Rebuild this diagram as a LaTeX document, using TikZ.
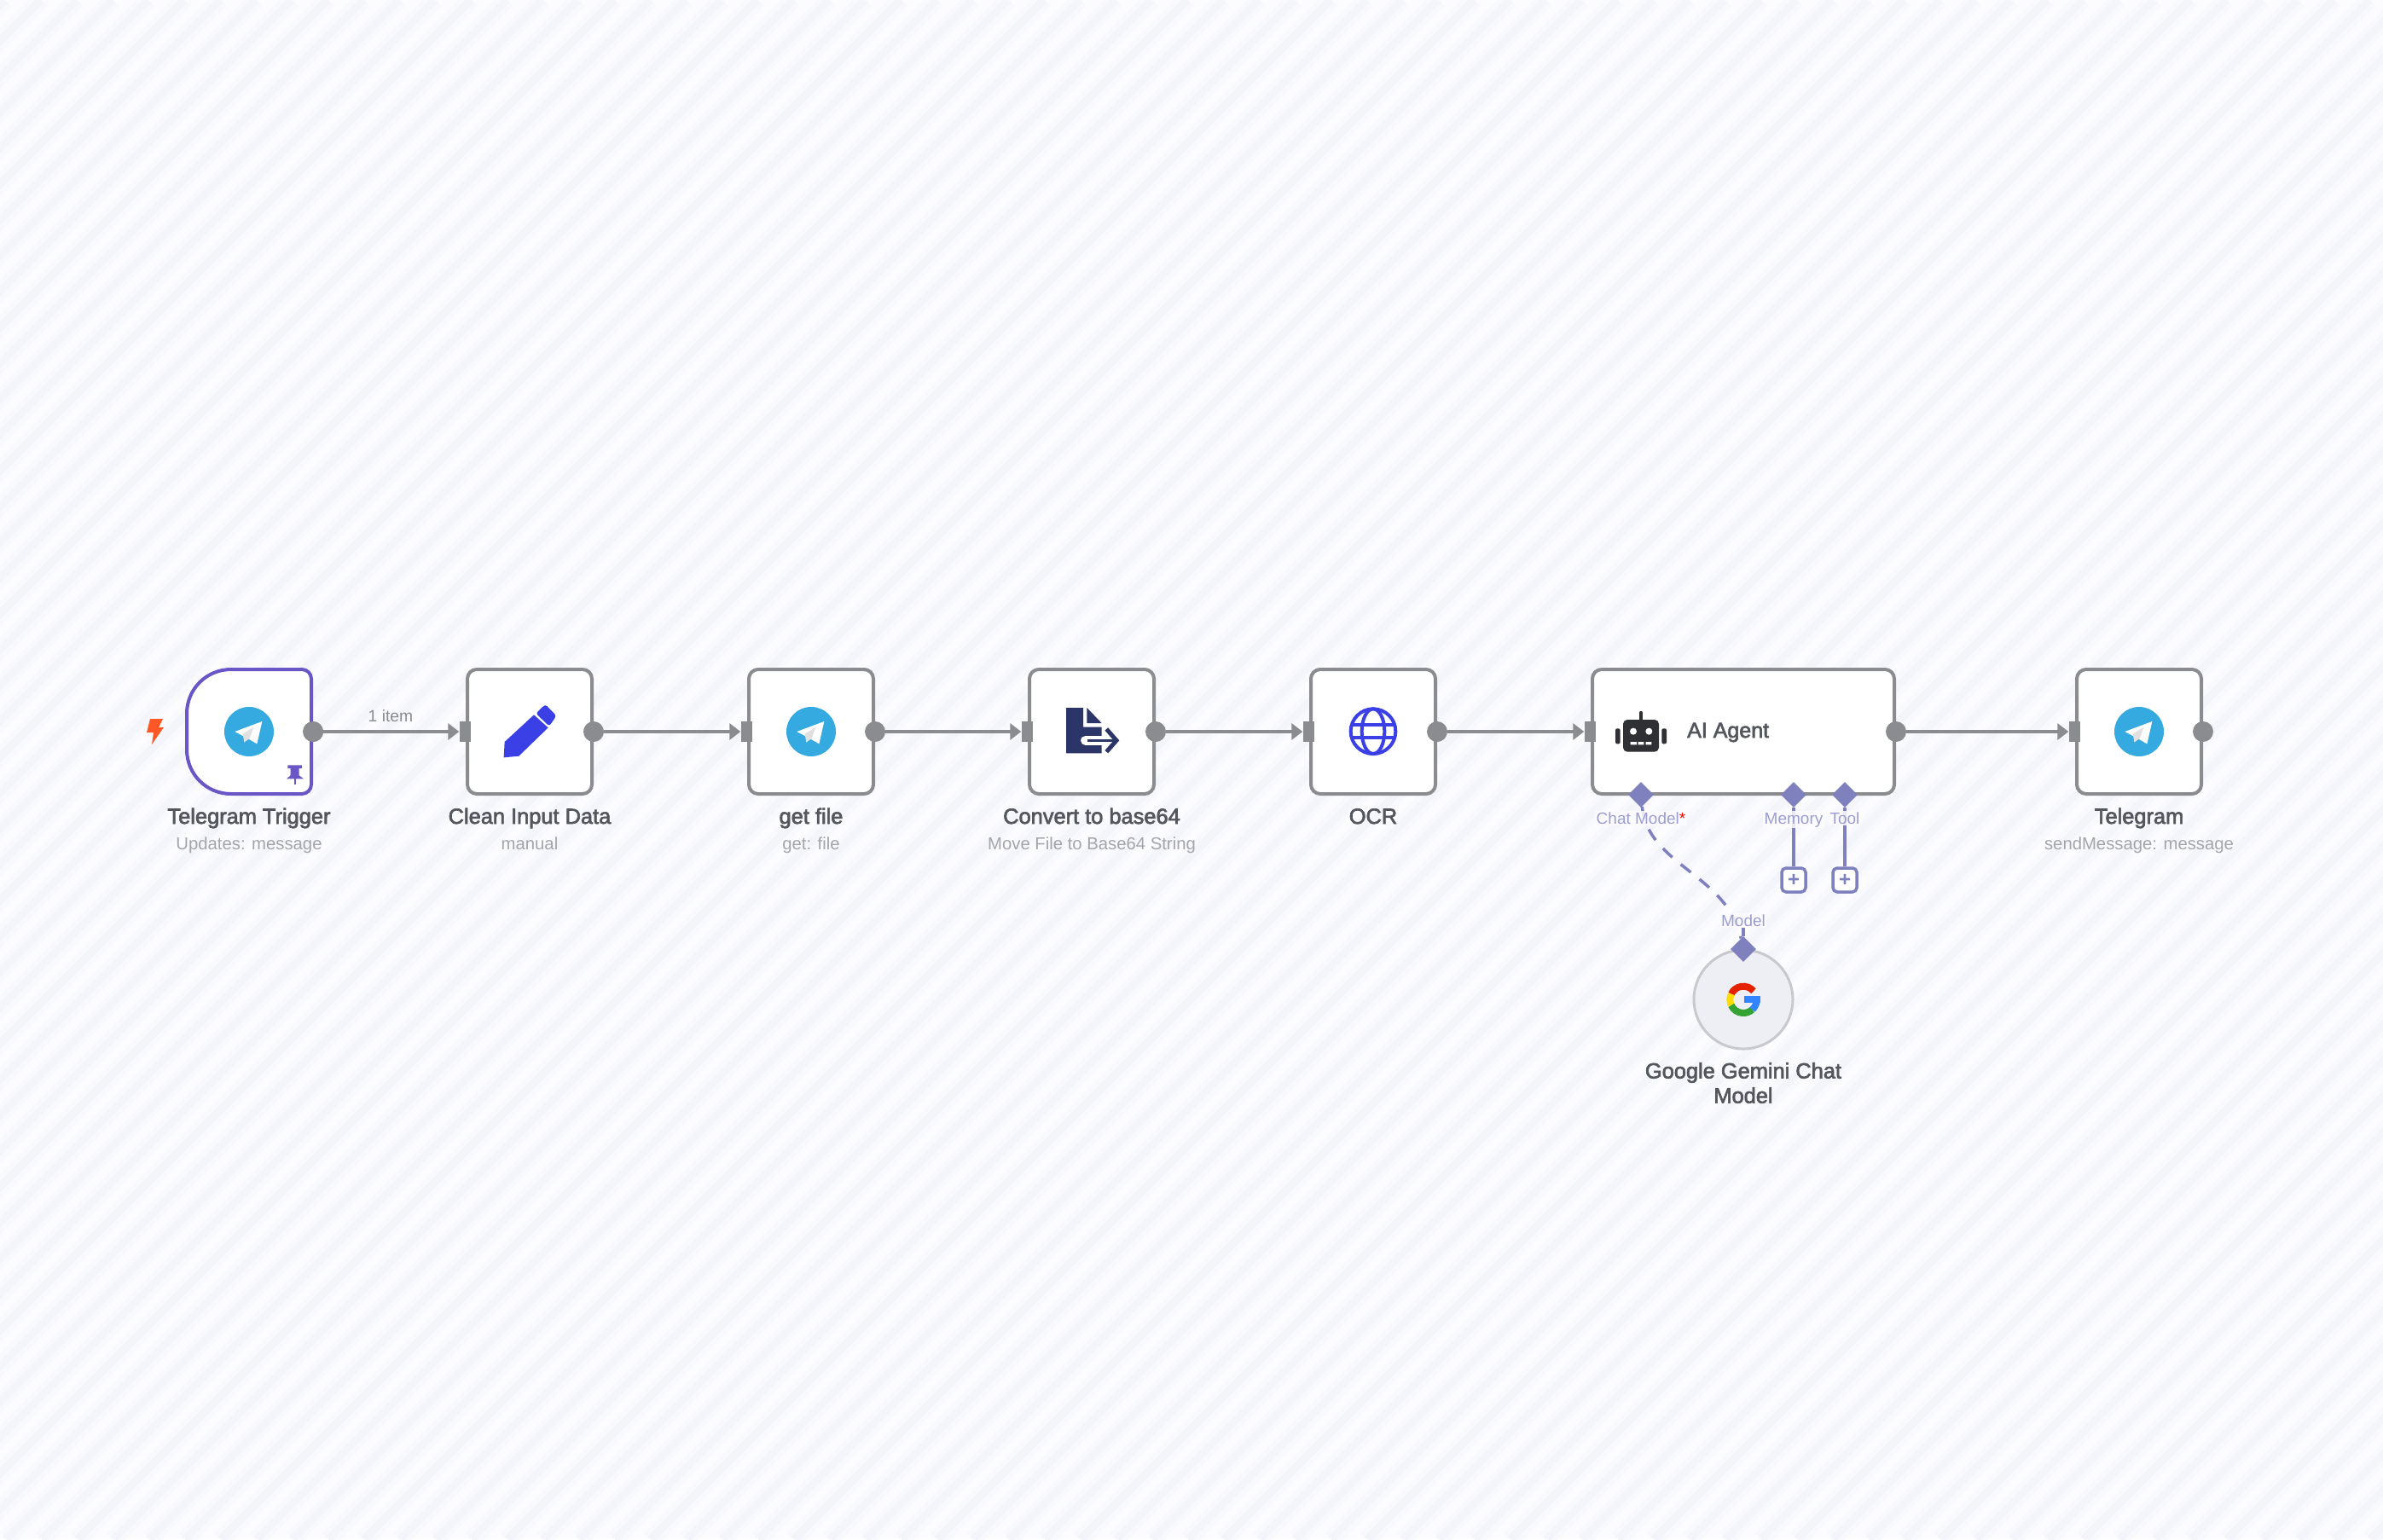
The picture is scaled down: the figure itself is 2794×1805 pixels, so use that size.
\documentclass[tikz,border=0pt]{standalone}
\usepackage{fontspec}
\setmainfont{Liberation Sans}
\newfontfamily\titlefont[FakeBold=2.5]{Liberation Sans}
\usetikzlibrary{arrows.meta,shapes.geometric}
\definecolor{bgcol}{HTML}{FCFCFF}
\definecolor{stripecol}{HTML}{F4F5FA}
\definecolor{stripesoft}{HTML}{F8F9FD}
\definecolor{wirecol}{HTML}{8A8C90}
\definecolor{titlecol}{HTML}{53565C}
\definecolor{subcol}{HTML}{A3A5AA}
\definecolor{portcol}{HTML}{7F80BE}
\definecolor{portlabel}{HTML}{9C9DD0}
\definecolor{trigcol}{HTML}{6A56C6}
\definecolor{tgblue}{HTML}{34AAE0}
\definecolor{iconblue}{HTML}{3A3FE6}
\definecolor{navy}{HTML}{2B3568}
\definecolor{botcol}{HTML}{2F3034}
\definecolor{geminifill}{HTML}{EEEFF4}
\definecolor{geminiline}{HTML}{C8C9CE}
\tikzset{
  nodebox/.style={draw=wirecol, line width=4pt, fill=white, rounded corners=11pt, inner sep=0pt, minimum height=146pt},
  outport/.style={circle, fill=wirecol, minimum size=24pt, inner sep=0pt},
  inport/.style={rectangle, fill=wirecol, minimum width=13pt, minimum height=24pt, inner sep=0pt},
  wire/.style={draw=wirecol, line width=4.5pt, -{Triangle[length=13pt,width=19pt]}},
  subport/.style={diamond, fill=portcol, minimum size=30pt, inner sep=0pt},
  subwire/.style={draw=portcol, line width=3.5pt},
  plusbox/.style={draw=portcol, line width=3.5pt, fill=white, rounded corners=5pt, minimum size=28pt, inner sep=0pt, text=portcol, font={\fontsize{24}{24}\selectfont\bfseries}},
  titlelabel/.style={anchor=base, inner sep=0pt, text=titlecol, font={\titlefont\fontsize{25.4}{29}\selectfont}},
  sublabel/.style={anchor=base, inner sep=0pt, text=subcol, font={\fontsize{20.3}{24}\selectfont}},
  portname/.style={anchor=base, inner sep=1.5pt, fill=bgcol, fill opacity=0.85, text opacity=1, text=portlabel, font={\fontsize{19}{22}\selectfont}}
}
\begin{document}
\begin{tikzpicture}[x=1pt, y=-1pt]
  \useasboundingbox (0,0) rectangle (2794,1805);
  % background stripes
  \fill[bgcol] (0,0) rectangle (2794,1805);
  \begin{scope}
    \clip (0,0) rectangle (2794,1805);
    \foreach \k in {0,...,110} {
      \draw[stripesoft, line width=20pt] ({\k*42+6},0) -- ({\k*42+6-1805},1805);
      \draw[stripecol, line width=9pt] ({\k*42+6},0) -- ({\k*42+6-1805},1805);
    }
  \end{scope}
  % main row of boxes
  \foreach \x/\w/\a/\b [count=\i] in {292/146/Telegram Trigger/Updates: message,621/146/Clean Input Data/manual,951/146/get file/get: file,1280/146/Convert to base64/Move File to Base64 String,1610/146/OCR/,2044/354//,2508/146/Telegram/sendMessage: message} {
    \ifnum\i=1
      \node[inner sep=0pt, minimum width=\w pt, minimum height=146pt, line width=4pt, outer sep=2pt] (box\i) at (\x,858) {};
    \else
      \node[nodebox, minimum width=\w pt] (box\i) at (\x,858) {};
    \fi
    \node[outport] (out\i) at (box\i.east) {};
    \node[titlelabel] (title\i) at (\x,966) {\a};
    \node[sublabel] (sub\i) at (\x,996) {\b};
  }
  % trigger outline
  \draw[draw=trigcol, line width=4pt, fill=white] (271,785) -- (354,785) .. controls (360,785) and (365,790) .. (365,796) -- (365,920) .. controls (365,926) and (360,931) .. (354,931) -- (271,931) .. controls (242,931) and (219,908) .. (219,879) -- (219,837) .. controls (219,808) and (242,785) .. (271,785) -- cycle;
  \node[outport] (out1) at (box1.east) {};
  % input ports and wires
  \foreach \i/\j in {1/2,2/3,3/4,4/5,5/6,6/7} {
    \node[inport, xshift=-1pt] (in\j) at (box\j.west) {};
    \draw[wire] (out\i.east) -- (in\j.west);
  }
  \node[anchor=base, inner sep=0pt, text=wirecol, font={\fontsize{19.3}{22}\selectfont}] (items) at (458,846) {1 item};
  % telegram icons
  \foreach \x in {292,951,2508} {
    \begin{scope}[shift={(\x,858)}, x=0.3333pt, y=-0.3333pt]
      \fill[tgblue] (0,0) circle[radius=87];
      \fill[white] (-50,0) -- (46,-36) -- (28,43) -- (-10,21) -- cycle;
      \fill[black!12] (-22,8) -- (-17,38) -- (3,23) -- (16,-16) -- cycle;
    \end{scope}
  }
  % trigger bolt and pin
  \fill[red!55!orange!85!white] (176,843) -- (191,843) -- (186,853) -- (192,853) -- (178,873) -- (180,859) -- (172,859) -- cycle;
  \begin{scope}[shift={(250,820)}, x=0.3333pt, y=-0.3333pt]
    \fill[trigcol] (262,232) -- (312,232) -- (312,243) -- (302,243) -- (302,268) -- (318,280) -- (258,280) -- (272,268) -- (272,243) -- (262,243) -- cycle;
    \fill[trigcol] (284,280) rectangle (292,300);
  \end{scope}
  % pencil
  \begin{scope}[shift={(580,820)}, x=0.3333pt, y=-0.3333pt]
    \fill[iconblue] (32,205) -- (35,150) -- (138,55) -- (188,100) -- (85,200) -- cycle;
    \fill[iconblue, rounded corners=3pt] (145,50) -- (178,18) -- (217,58) -- (192,95) -- cycle;
  \end{scope}
  % file to base64
  \begin{scope}[shift={(1240,820)}, x=0.3333pt, y=-0.3333pt]
    \fill[navy] (30,30) -- (90,30) -- (90,98) -- (155,98) -- (155,190) -- (30,190) -- cycle;
    \fill[navy] (103,30) -- (155,84) -- (103,84) -- cycle;
    \draw[white, line width=11pt, line cap=round] (98,145) -- (200,145);
    \draw[white, line width=4pt] (165,98) -- (200,145) -- (165,192);
    \draw[navy, line width=3.4pt] (105,145) -- (200,145);
    \draw[navy, line width=5pt] (172,105) -- (207,145) -- (172,185);
  \end{scope}
  % globe
  \begin{scope}[shift={(1570,820)}, x=0.3333pt, y=-0.3333pt]
    \draw[iconblue, line width=4pt] (120,113) circle[radius=79];
    \draw[iconblue, line width=4pt] (120,113) ellipse[x radius=40, y radius=79];
    \draw[iconblue, line width=4pt] (48,90) -- (192,90) (48,136) -- (192,136);
  \end{scope}
  % robot
  \node[anchor=base west, inner sep=0pt, text=titlecol, font={\titlefont\fontsize{25}{29}\selectfont}] (agent) at (1978,865) {AI Agent};
  \begin{scope}[shift={(1884,820)}, x=0.3333pt, y=-0.3333pt]
    \fill[botcol, rounded corners=5pt] (57,72) rectangle (183,185);
    \draw[botcol, line width=4.5pt, line cap=round] (120,48) -- (120,72);
    \fill[botcol, rounded corners=2pt] (30,103) rectangle (47,157);
    \fill[botcol, rounded corners=2pt] (193,103) rectangle (210,157);
    \fill[white] (93,113) circle[radius=12] (148,113) circle[radius=12];
    \fill[white] (83,150) rectangle (105,160) (110,150) rectangle (130,160) (137,150) rectangle (157,160);
  \end{scope}
  % sub nodes of the agent
  \node[subport] (chatport) at (1924,932) {};
  \node[subport] (memport) at (2103,932) {};
  \node[subport] (toolport) at (2163,932) {};
  \node[plusbox] (memplus) at (2103,1032) {+};
  \node[plusbox] (toolplus) at (2163,1032) {+};
  \node[circle, draw=geminiline, line width=3pt, fill=geminifill, minimum size=116pt, inner sep=0pt] (gemini) at (2044,1172) {};
  \node[subport] (modelport) at (2044,1113) {};
  \draw[subwire] (memport) -- (memplus);
  \draw[subwire] (toolport) -- (toolplus);
  \draw[subwire, dash pattern=on 15pt off 13pt] (chatport) .. controls (1932,1015) and (2025,1025) .. (modelport);
  \node[portname] (chatlabel) at (1924,966) {Chat Model\textcolor{red}{*}};
  \node[portname] (memlabel) at (2103,966) {Memory};
  \node[portname] (toollabel) at (2163,966) {Tool};
  \node[portname] (modellabel) at (2044,1086) {Model};
  \draw[subwire] (modelport) -- (modellabel);
  % google logo
  \begin{scope}[shift={(2004,1134)}, x=0.3333pt, y=-0.3333pt]
    \draw[red!70!orange!90!black, line width=8pt] (120,115) ++(-40:47) arc[start angle=-40, end angle=-155, radius=47];
    \draw[yellow!80!orange, line width=8pt] (120,115) ++(-155:47) arc[start angle=-155, end angle=-205, radius=47];
    \draw[green!55!black!80!white, line width=8pt] (120,115) ++(-205:47) arc[start angle=-205, end angle=-312, radius=47];
    \draw[blue!60!cyan!80!white, line width=8pt] (120,115) ++(-312:47) arc[start angle=-312, end angle=-360, radius=47];
    \fill[blue!60!cyan!80!white] (122,102) rectangle (179,126);
  \end{scope}
  \node[titlelabel, anchor=center, align=center] (geminilabel) at (2044,1270) {Google Gemini Chat\\Model};
\end{tikzpicture}
\end{document}
